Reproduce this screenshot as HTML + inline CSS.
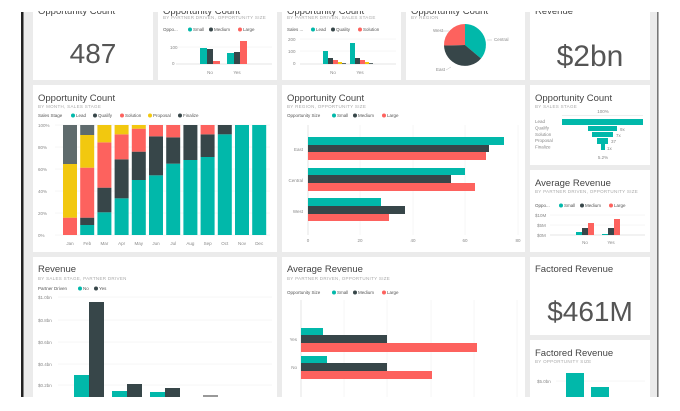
<!DOCTYPE html>
<html><head><meta charset="utf-8"><style>
body{margin:0;background:#fff;}
svg{display:block;font-family:"Liberation Sans",sans-serif;}
.t{font-size:9.5px;fill:#444;}
.s{font-size:4.5px;fill:#aaa;letter-spacing:.3px;}
.l{font-size:4.5px;fill:#555;}
.a{font-size:4.5px;fill:#888;}
.big{font-family:"Liberation Sans Narrow","Liberation Sans",sans-serif;fill:#555;}
</style></head><body>
<svg width="680" height="411" viewBox="0 0 680 411" xmlns="http://www.w3.org/2000/svg">
<rect x="0" y="0" width="680" height="411" fill="#fff"/>
<rect x="22" y="12" width="637" height="385" fill="#ebebeb"/>
<rect x="21" y="12" width="2.5" height="386" fill="#222"/>
<rect x="657" y="12" width="1.5" height="386" fill="#777"/>
<!-- cards -->
<g fill="#fff">
<rect x="33" y="12" width="120" height="68"/>
<rect x="158" y="12" width="119" height="68"/>
<rect x="282" y="12" width="119" height="68"/>
<rect x="406" y="12" width="119" height="68"/>
<rect x="530" y="12" width="120" height="68"/>
<rect x="33" y="85" width="244" height="167"/>
<rect x="282" y="85" width="243" height="167"/>
<rect x="530" y="85" width="120" height="80"/>
<rect x="530" y="170" width="120" height="82"/>
<rect x="33" y="257" width="244" height="140"/>
<rect x="282" y="257" width="243" height="140"/>
<rect x="530" y="257" width="120" height="78"/>
<rect x="530" y="340" width="120" height="57"/>
</g>
<!-- cut-off titles -->
<g class="t" font-size="8"><text x="38" y="14">Opportunity Count</text><text x="163" y="14">Opportunity Count</text><text x="287" y="14">Opportunity Count</text><text x="411" y="14">Opportunity Count</text><text x="535" y="14">Revenue</text></g>
<rect x="0" y="0" width="680" height="11" fill="#fff"/>
<!-- card1 -->
<text x="93" y="63" text-anchor="middle" class="big" font-size="28">487</text>
<!-- card2 -->
<text x="163" y="19" class="s">BY PARTNER DRIVEN, OPPORTUNITY SIZE</text>
<text x="163" y="31" class="l">Oppo...</text>
<circle cx="190" cy="29.5" r="2" fill="#01b8aa"/><text x="193" y="31" class="l">Small</text>
<circle cx="211" cy="29.5" r="2" fill="#374649"/><text x="214" y="31" class="l">Medium</text>
<circle cx="240" cy="29.5" r="2" fill="#fd625e"/><text x="243" y="31" class="l">Large</text>
<text x="170" y="49" class="a">100</text><text x="172" y="65" class="a">0</text>
<line x1="176" y1="47" x2="272" y2="47" stroke="#eee" stroke-width=".5"/>
<line x1="176" y1="64" x2="272" y2="64" stroke="#ccc" stroke-width=".5"/>
<rect x="200" y="48" width="7" height="16" fill="#01b8aa"/><rect x="207" y="49" width="6" height="15" fill="#374649"/><rect x="213" y="61" width="7" height="3" fill="#fd625e"/>
<rect x="227" y="53" width="7" height="11" fill="#01b8aa"/><rect x="234" y="52" width="6" height="12" fill="#374649"/><rect x="240" y="41" width="7" height="23" fill="#fd625e"/>
<text x="210" y="74" class="a" text-anchor="middle">No</text><text x="237" y="74" class="a" text-anchor="middle">Yes</text>
<!-- card3 -->
<text x="287" y="19" class="s">BY PARTNER DRIVEN, SALES STAGE</text>
<text x="287" y="31" class="l">Sales ...</text>
<circle cx="313" cy="29.5" r="2" fill="#01b8aa"/><text x="316" y="31" class="l">Lead</text>
<circle cx="333" cy="29.5" r="2" fill="#374649"/><text x="336" y="31" class="l">Quality</text>
<circle cx="360" cy="29.5" r="2" fill="#fd625e"/><text x="363" y="31" class="l">Solution</text>
<text x="288" y="41" class="a">200</text><text x="288" y="53" class="a">100</text><text x="293" y="65" class="a">0</text>
<line x1="300" y1="39" x2="396" y2="39" stroke="#eee" stroke-width=".5"/>
<line x1="300" y1="51" x2="396" y2="51" stroke="#eee" stroke-width=".5"/>
<line x1="300" y1="64" x2="396" y2="64" stroke="#ccc" stroke-width=".5"/>
<rect x="323" y="51" width="5" height="13" fill="#01b8aa"/><rect x="328" y="58" width="5" height="6" fill="#374649"/><rect x="333" y="60" width="5" height="4" fill="#fd625e"/><rect x="338" y="62" width="4" height="2" fill="#f2c80f"/><rect x="342" y="63" width="4" height="1" fill="#5f6b6d"/>
<rect x="350" y="43" width="5" height="21" fill="#01b8aa"/><rect x="355" y="58" width="5" height="6" fill="#374649"/><rect x="360" y="60" width="5" height="4" fill="#fd625e"/><rect x="365" y="62" width="4" height="2" fill="#f2c80f"/><rect x="369" y="63" width="4" height="1" fill="#5f6b6d"/>
<text x="333" y="74" class="a" text-anchor="middle">No</text><text x="360" y="74" class="a" text-anchor="middle">Yes</text>
<!-- card4 pie -->
<text x="411" y="19" class="s">BY REGION</text>
<path d="M465 45 L465 24 A21 21 0 0 1 481 58.5 Z" fill="#01b8aa"/>
<path d="M465 45 L481 58.5 A21 21 0 0 1 444 45.5 Z" fill="#374649"/>
<path d="M465 45 L444 45.5 A21 21 0 0 1 465 24 Z" fill="#fd625e"/>
<text x="433" y="32" class="a">West</text><line x1="443" y1="31" x2="449" y2="31" stroke="#aaa" stroke-width=".4"/>
<text x="494" y="41" class="a">Central</text><line x1="487" y1="40" x2="492" y2="40" stroke="#aaa" stroke-width=".4"/>
<text x="436" y="71" class="a">East</text><line x1="446" y1="70" x2="451" y2="67" stroke="#aaa" stroke-width=".4"/>
<!-- card5 -->
<text x="590" y="66" text-anchor="middle" class="big" font-size="30">$2bn</text>
<!-- big stacked -->
<text x="38" y="101" class="t">Opportunity Count</text>
<text x="38" y="108" class="s">BY MONTH, SALES STAGE</text>
<text x="38" y="117" class="l">Sales Stage</text>
<circle cx="73" cy="115.5" r="2" fill="#01b8aa"/><text x="76" y="117" class="l">Lead</text>
<circle cx="95" cy="115.5" r="2" fill="#374649"/><text x="98" y="117" class="l">Qualify</text>
<circle cx="122" cy="115.5" r="2" fill="#fd625e"/><text x="125" y="117" class="l">Solution</text>
<circle cx="150" cy="115.5" r="2" fill="#f2c80f"/><text x="153" y="117" class="l">Proposal</text>
<circle cx="180" cy="115.5" r="2" fill="#374649"/><text x="183" y="117" class="l">Finalize</text>
<g class="a"><text x="38" y="127">100%</text><text x="38" y="149">80%</text><text x="38" y="171">60%</text><text x="38" y="193">40%</text><text x="38" y="215">20%</text><text x="38" y="237">0%</text></g>
<g stroke="#eee" stroke-width=".5"><line x1="55" y1="125" x2="270" y2="125"/><line x1="55" y1="147" x2="270" y2="147"/><line x1="55" y1="169" x2="270" y2="169"/><line x1="55" y1="191" x2="270" y2="191"/><line x1="55" y1="213" x2="270" y2="213"/><line x1="55" y1="235" x2="270" y2="235"/></g>
<g id="bars"></g>
<g class="a" text-anchor="middle" id="months"></g>
<!-- region hbar -->
<text x="287" y="101" class="t">Opportunity Count</text>
<text x="287" y="108" class="s">BY REGION, OPPORTUNITY SIZE</text>
<text x="287" y="117" class="l">Opportunity Size</text>
<circle cx="334" cy="115.5" r="2" fill="#01b8aa"/><text x="337" y="117" class="l">Small</text>
<circle cx="355" cy="115.5" r="2" fill="#374649"/><text x="358" y="117" class="l">Medium</text>
<circle cx="384" cy="115.5" r="2" fill="#fd625e"/><text x="387" y="117" class="l">Large</text>
<g stroke="#eee" stroke-width=".5"><line x1="360" y1="125" x2="360" y2="235"/><line x1="413" y1="125" x2="413" y2="235"/><line x1="465" y1="125" x2="465" y2="235"/><line x1="518" y1="125" x2="518" y2="235"/></g>
<line x1="308" y1="125" x2="308" y2="235" stroke="#ccc" stroke-width=".5"/>
<rect x="308" y="137" width="196" height="8" fill="#01b8aa"/><rect x="308" y="145" width="181" height="7" fill="#374649"/><rect x="308" y="152" width="178" height="8" fill="#fd625e"/>
<rect x="308" y="168" width="157" height="7" fill="#01b8aa"/><rect x="308" y="175" width="143" height="8" fill="#374649"/><rect x="308" y="183" width="167" height="8" fill="#fd625e"/>
<rect x="308" y="198" width="73" height="8" fill="#01b8aa"/><rect x="308" y="206" width="97" height="8" fill="#374649"/><rect x="308" y="214" width="81" height="7" fill="#fd625e"/>
<g class="a" text-anchor="end"><text x="303" y="151">East</text><text x="303" y="182">Central</text><text x="303" y="213">West</text></g>
<g class="a" text-anchor="middle"><text x="308" y="242">0</text><text x="360" y="242">20</text><text x="413" y="242">40</text><text x="465" y="242">60</text><text x="518" y="242">80</text></g>
<!-- funnel -->
<text x="535" y="101" class="t">Opportunity Count</text>
<text x="535" y="108" class="s">BY SALES STAGE</text>
<text x="603" y="113" class="a" text-anchor="middle">100%</text>
<line x1="562" y1="115.5" x2="643" y2="115.5" stroke="#ddd" stroke-width=".5"/>
<g class="a"><text x="535" y="123">Lead</text><text x="535" y="129.5">Qualify</text><text x="535" y="136">Solution</text><text x="535" y="142">Proposal</text><text x="535" y="148.5">Finalize</text></g>
<g fill="#01b8aa"><rect x="562" y="119" width="81" height="6"/><rect x="588" y="126" width="29" height="5"/><rect x="592" y="132" width="21" height="5"/><rect x="597" y="138" width="11" height="6"/><rect x="601" y="144" width="4" height="6"/></g>
<g class="a"><text x="620" y="131">9x</text><text x="616" y="137">7x</text><text x="611" y="143">37</text><text x="607" y="150">1x</text></g>
<text x="603" y="159" class="a" text-anchor="middle">5.2%</text>
<!-- avg revenue small -->
<text x="535" y="186" class="t">Average Revenue</text>
<text x="535" y="193" class="s">BY PARTNER DRIVEN, OPPORTUNITY SIZE</text>
<text x="535" y="207" class="l">Oppo...</text>
<circle cx="561" cy="205.5" r="2" fill="#01b8aa"/><text x="564" y="207" class="l">Small</text>
<circle cx="582" cy="205.5" r="2" fill="#374649"/><text x="585" y="207" class="l">Medium</text>
<circle cx="611" cy="205.5" r="2" fill="#fd625e"/><text x="614" y="207" class="l">Large</text>
<g class="a"><text x="535" y="217">$10M</text><text x="537" y="227">$5M</text><text x="537" y="237">$0M</text></g>
<g stroke="#eee" stroke-width=".5"><line x1="550" y1="215" x2="645" y2="215"/><line x1="550" y1="225" x2="645" y2="225"/></g>
<line x1="550" y1="235" x2="645" y2="235" stroke="#ccc" stroke-width=".5"/>
<rect x="576" y="232" width="6" height="3" fill="#01b8aa"/><rect x="582" y="228" width="6" height="7" fill="#374649"/><rect x="588" y="223" width="6" height="12" fill="#fd625e"/>
<rect x="602" y="234" width="6" height="1" fill="#01b8aa"/><rect x="608" y="228" width="6" height="7" fill="#374649"/><rect x="614" y="219" width="6" height="16" fill="#fd625e"/>
<text x="585" y="244" class="a" text-anchor="middle">No</text><text x="611" y="244" class="a" text-anchor="middle">Yes</text>
<!-- revenue -->
<text x="38" y="272" class="t" font-size="8">Revenue</text>
<text x="38" y="280" class="s">BY SALES STAGE, PARTNER DRIVEN</text>
<text x="38" y="290" class="l">Partner Driven</text>
<circle cx="80" cy="288.5" r="2" fill="#01b8aa"/><text x="83" y="290" class="l">No</text>
<circle cx="96" cy="288.5" r="2" fill="#374649"/><text x="99" y="290" class="l">Yes</text>
<g class="a"><text x="38" y="299">$1.0bn</text><text x="38" y="322">$0.8bn</text><text x="38" y="344">$0.6bn</text><text x="38" y="366">$0.4bn</text><text x="38" y="387">$0.2bn</text></g>
<g stroke="#eee" stroke-width=".5"><line x1="58" y1="297" x2="272" y2="297"/><line x1="58" y1="320" x2="272" y2="320"/><line x1="58" y1="342" x2="272" y2="342"/><line x1="58" y1="364" x2="272" y2="364"/><line x1="58" y1="385" x2="272" y2="385"/></g>
<rect x="74" y="375" width="15" height="22" fill="#01b8aa"/><rect x="89" y="302" width="15" height="95" fill="#374649"/>
<rect x="112" y="391" width="15" height="6" fill="#01b8aa"/><rect x="127" y="384" width="15" height="13" fill="#374649"/>
<rect x="150" y="392" width="15" height="5" fill="#01b8aa"/><rect x="165" y="388" width="15" height="9" fill="#374649"/>
<rect x="203" y="395" width="15" height="2" fill="#999"/>
<!-- avg revenue big -->
<text x="287" y="272" class="t" font-size="8">Average Revenue</text>
<text x="287" y="280" class="s">BY PARTNER DRIVEN, OPPORTUNITY SIZE</text>
<text x="287" y="294" class="l">Opportunity Size</text>
<circle cx="334" cy="292.5" r="2" fill="#01b8aa"/><text x="337" y="294" class="l">Small</text>
<circle cx="355" cy="292.5" r="2" fill="#374649"/><text x="358" y="294" class="l">Medium</text>
<circle cx="384" cy="292.5" r="2" fill="#fd625e"/><text x="387" y="294" class="l">Large</text>
<g stroke="#eee" stroke-width=".5"><line x1="344" y1="300" x2="344" y2="397"/><line x1="387" y1="300" x2="387" y2="397"/><line x1="431" y1="300" x2="431" y2="397"/><line x1="474" y1="300" x2="474" y2="397"/><line x1="517" y1="300" x2="517" y2="397"/></g>
<line x1="301" y1="300" x2="301" y2="397" stroke="#ccc" stroke-width=".5"/>
<rect x="301" y="328" width="22" height="7" fill="#01b8aa"/><rect x="301" y="335" width="86" height="8" fill="#374649"/><rect x="301" y="343" width="176" height="9" fill="#fd625e"/>
<rect x="301" y="356" width="26" height="7" fill="#01b8aa"/><rect x="301" y="363" width="86" height="8" fill="#374649"/><rect x="301" y="371" width="131" height="8" fill="#fd625e"/>
<g class="a" text-anchor="end"><text x="297" y="341">Yes</text><text x="297" y="369">No</text></g>
<!-- factored -->
<text x="535" y="272" class="t" font-size="8">Factored Revenue</text>
<text x="590" y="321" text-anchor="middle" class="big" font-size="28">$461M</text>
<text x="535" y="356" class="t" font-size="8">Factored Revenue</text>
<text x="535" y="363" class="s">BY OPPORTUNITY SIZE</text>
<text x="537" y="383" class="a">$5.0bn</text>
<line x1="556" y1="381" x2="645" y2="381" stroke="#eee" stroke-width=".5"/>
<rect x="566" y="373" width="18" height="24" fill="#01b8aa"/><rect x="591" y="387" width="18" height="10" fill="#01b8aa"/>
<rect x="0" y="397" width="680" height="14" fill="#fff"/>
<script>
(function(){
var ns="http://www.w3.org/2000/svg";
var C={t:"#01b8aa",d:"#374649",r:"#fd625e",y:"#f2c80f",g:"#5f6b6d"};
var D=[[["r",653],["y",492],["g",375]],
[["t",675],["d",653],["r",503],["y",405],["g",375]],
[["t",637],["d",563],["r",427],["y",375]],
[["t",595],["d",478],["r",403],["y",375]],
[["t",540],["d",455],["r",386],["y",375]],
[["t",526],["d",409],["r",375]],
[["t",491],["d",412],["r",375]],
[["t",480],["d",375]],
[["t",471],["d",403],["r",375]],
[["t",403],["d",375]],
[["t",375]],[["t",375]]];
var M=["Jan","Feb","Mar","Apr","May","Jun","Jul","Aug","Sep","Oct","Nov","Dec"];
var g=document.getElementById("bars"),m=document.getElementById("months");
D.forEach(function(b,i){var x=63+i*17.2,prev=705;
b.forEach(function(s){var r=document.createElementNS(ns,"rect");
var y1=125+(s[1]-375)/3,y0=125+(prev-375)/3;
r.setAttribute("x",x);r.setAttribute("width",14);r.setAttribute("y",y1);r.setAttribute("height",y0-y1);r.setAttribute("fill",C[s[0]]);g.appendChild(r);prev=s[1];});
var t=document.createElementNS(ns,"text");t.setAttribute("x",x+7);t.setAttribute("y",245);t.textContent=M[i];m.appendChild(t);});
})();
</script>
</svg>
</body></html>
